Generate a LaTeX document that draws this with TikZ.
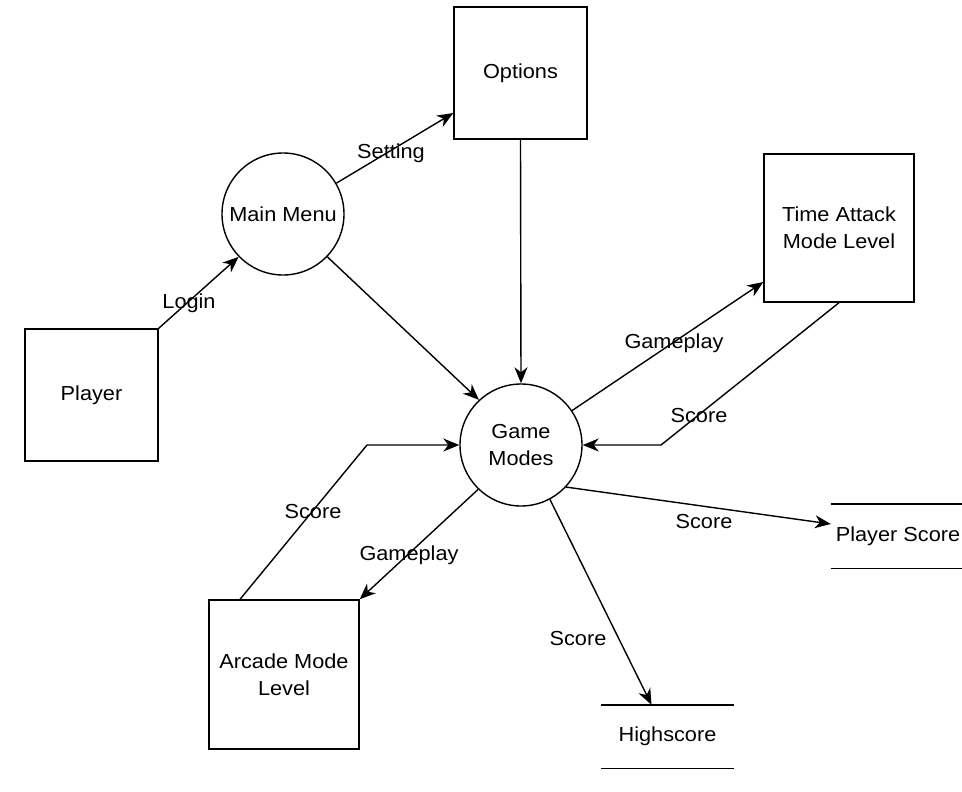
\documentclass[tikz,border=0pt]{standalone}
\usepackage{fontspec}
\setmainfont{Liberation Sans}[FakeStretch=1.07]
\usetikzlibrary{arrows.meta}
\begin{document}
\begin{tikzpicture}[x=1pt,y=-1pt,
  every node/.style={font=\fontsize{20.3}{27}\selectfont},
  box/.style={draw, rectangle, line width=1.4pt, inner sep=0pt, align=center},
  proc/.style={draw, circle, line width=1.4pt, minimum size=122pt, inner sep=0pt, align=center},
  store/.style={rectangle, inner sep=0pt},
  storeline/.style={line width=1.4pt},
  flow/.style={line width=1.4pt, -{Stealth[length=16pt,width=13pt,inset=5pt]}},
  lbl/.style={inner sep=0pt}]
\useasboundingbox (0,0) rectangle (962,792);

% nodes
\node[box, minimum width=133pt, minimum height=132pt] (player) at (91.5,395) {Player};
\node[proc] (mainmenu) at (283,214) {Main Menu};
\node[box, minimum width=133pt, minimum height=132pt] (options) at (520.5,73) {Options};
\node[box, minimum width=150pt, minimum height=148pt] (timeattack) at (839,228) {Time Attack\\Mode Level};
\node[proc] (gamemodes) at (521,445) {Game\\Modes};
\node[box, minimum width=150pt, minimum height=149pt] (arcade) at (284,674.5) {Arcade Mode\\Level};
\node[store, minimum width=131pt, minimum height=64pt] (pscore) at (896.5,536) {\hspace*{3pt}Player Score};
\node[store, minimum width=133pt, minimum height=63pt] (hscore) at (667.5,736.5) {Highscore};

% data store lines
\draw[storeline] (pscore.north west) -- (pscore.north east);
\draw[storeline] (pscore.south west) -- (pscore.south east);
\draw[storeline] (hscore.north west) -- (hscore.north east);
\draw[storeline] (hscore.south west) -- (hscore.south east);

% bend points
\coordinate (tabend) at (661,445);
\coordinate (arcbend) at (367,445);

% flows
\draw[flow] (player.north east) -- (mainmenu.-136);
\draw[flow] (mainmenu.30.6) -- ([yshift=-40pt]options.west);
\draw[flow] (mainmenu.-44) -- (gamemodes.133);
\draw[flow] (options.south) -- (gamemodes.north);
\draw[flow] (gamemodes.34) -- ([yshift=-54pt]timeattack.west);
\draw[flow] (timeattack.south) -- (tabend) -- (gamemodes.east);
\draw[flow] ([xshift=-44pt]arcade.north) -- (arcbend) -- (gamemodes.west);
\draw[flow] (gamemodes.-134) -- (arcade.north east);
\draw[flow] (gamemodes.-43) -- ([yshift=12pt]pscore.west);
\draw[flow] (gamemodes.-62.6) -- ([xshift=-16pt]hscore.north);

% labels
\node[lbl] (lLogin) at (189,303) {Login};
\node[lbl] (lSetting) at (391,153) {Setting};
\node[lbl] (lGpTA) at (674,343) {Gameplay};
\node[lbl] (lScTA) at (699,416) {Score};
\node[lbl] (lScArc) at (313,512) {Score};
\node[lbl] (lGpArc) at (409,555) {Gameplay};
\node[lbl] (lScPS) at (704,522) {Score};
\node[lbl] (lScHS) at (578,639) {Score};
\end{tikzpicture}
\end{document}
